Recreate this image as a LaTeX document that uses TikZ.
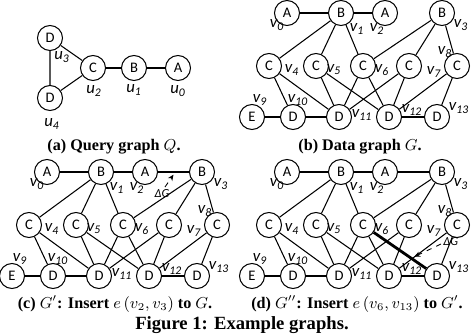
\documentclass[tikz,border=0pt]{standalone}
\usepackage{fontspec}
\newfontfamily\vfont{Carlito}
\newfontfamily\capfont{Liberation Serif}
\usetikzlibrary{arrows.meta}
\tikzset{
	vtx/.style={circle, draw, line width=0.6pt, fill=white, minimum size=0.5cm, inner sep=0pt, font=\vfont\fontsize{8.3}{9}\selectfont},
	lbl/.style={inner sep=0pt, font=\vfont\itshape\fontsize{9.5}{10}\selectfont},
	edge/.style={line width=0.6pt},
	newedge/.style={line width=1.6pt},
	delta/.style={dashed, line width=0.5pt, -{Stealth[length=3.5pt,width=3pt]}},
	subcap/.style={font=\capfont\fontsize{9.2}{11}\selectfont\bfseries},
	figcap/.style={font=\capfont\fontsize{10.6}{12}\selectfont\bfseries}
}
\newcommand{\vl}[1]{v\textsubscript{#1}}
\newcommand{\ul}[1]{u\textsubscript{#1}}
\begin{document}
\begin{tikzpicture}[x=0.02cm, y=-0.02cm]
	\useasboundingbox (0,0) rectangle (474,335);
	\newcommand{\datagraph}{
		%vertices
		\node [vtx] (v0) at (287,13) {A};
		\node [vtx] (v1) at (341,13) {B};
		\node [vtx] (v2) at (385,13) {A};
		\node [vtx] (v3) at (442,13) {B};
		\node [vtx] (v4) at (269,66) {C};
		\node [vtx] (v5) at (316,66) {C};
		\node [vtx] (v6) at (363,66) {C};
		\node [vtx] (v7) at (409,66) {C};
		\node [vtx] (v8) at (457,66) {C};
		\node [vtx] (v9) at (252,117) {E};
		\node [vtx] (v10) at (293,117) {D};
		\node [vtx] (v11) at (339,117) {D};
		\node [vtx] (v12) at (389,117) {D};
		\node [vtx] (v13) at (437,117) {D};
		%vertex ids
		\node [lbl] (l0) at (277,25) {\vl{0}};
		\node [lbl] (l1) at (357,29) {\vl{1}};
		\node [lbl] (l2) at (377,29) {\vl{2}};
		\node [lbl] (l3) at (461,25) {\vl{3}};
		\node [lbl] (l4) at (292,70) {\vl{4}};
		\node [lbl] (l5) at (334,70) {\vl{5}};
		\node [lbl] (l6) at (382,70) {\vl{6}};
		\node [lbl] (l7) at (434,72) {\vl{7}};
		\node [lbl] (l8) at (445,52) {\vl{8}};
		\node [lbl] (l9) at (260,100) {\vl{9}};
		\node [lbl] (l10) at (298,100) {\vl{10}};
		\node [lbl] (l11) at (362,115) {\vl{11}};
		\node [lbl] (l12) at (412,110) {\vl{12}};
		\node [lbl] (l13) at (459,108) {\vl{13}};
		%edges
		\draw [edge] (v0) -- (v1) -- (v2);
		\draw [edge] (v1) -- (v4);
		\draw [edge] (v1) -- (v5);
		\draw [edge] (v1) -- (v6);
		\draw [edge] (v3) -- (v6);
		\draw [edge] (v3) -- (v7);
		\draw [edge] (v3) -- (v8);
		\draw [edge] (v4) -- (v10);
		\draw [edge] (v4) -- (v11);
		\draw [edge] (v5) -- (v11);
		\draw [edge] (v5) -- (v12);
		\draw [edge] (v6) -- (v11);
		\draw [edge] (v6) -- (v12);
		\draw [edge] (v7) -- (v11);
		\draw [edge] (v7) -- (v12);
		\draw [edge] (v8) -- (v12);
		\draw [edge] (v8) -- (v13);
		\draw [edge] (v9) -- (v10) -- (v11);
		\draw [edge] (v12) -- (v13);
	}
	%(a) query graph
	\node [vtx] (u3) at (50,38) {D};
	\node [vtx] (u4) at (50,98) {D};
	\node [vtx] (u2) at (93,68) {C};
	\node [vtx] (u1) at (134,68) {B};
	\node [vtx] (u0) at (178,68) {A};
	\node [lbl] (k3) at (62,57) {\ul{3}};
	\node [lbl] (k2) at (94,91) {\ul{2}};
	\node [lbl] (k1) at (134,90) {\ul{1}};
	\node [lbl] (k0) at (178,91) {\ul{0}};
	\node [lbl] (k4) at (52,124) {\ul{4}};
	\draw [edge] (u3) -- (u4) -- (u2) -- (u3);
	\draw [edge] (u2) -- (u1) -- (u0);
	\node [subcap] (capa) at (114,147) {(a) Query graph $Q$.};
	%(b) data graph
	\begin{scope}[name prefix=b-]
		\datagraph
	\end{scope}
	\node [subcap] (capb) at (360,147) {(b) Data graph $G$.};
	%(c) first insertion
	\begin{scope}[shift={(-240,159)}, name prefix=c-]
		\datagraph
		\draw [newedge] (v2) -- (v3) coordinate [pos=0.5] (dh);
		\coordinate (dt) at (405,28);
		\draw [delta] (dt) -- ([yshift=-1.5pt]dh);
		\node [lbl, font=\vfont\itshape\fontsize{7}{8}\selectfont] (dg) at (402,35) {ΔG};
	\end{scope}
	\node [subcap] (capc) at (115,304) {(c) $G'$: Insert $e\,(v_2, v_3)$ to $G$.};
	%(d) second insertion
	\begin{scope}[shift={(0,159)}, name prefix=d-]
		\datagraph
		\draw [edge] (v2) -- (v3);
		\draw [newedge] (v6) -- (v13) coordinate [pos=0.77] (dh);
		\coordinate (dt) at (441,85);
		\draw [delta] (dt) -- ([yshift=2pt]dh);
		\node [lbl, font=\vfont\itshape\fontsize{7}{8}\selectfont, anchor=west] (dg) at (443,83) {ΔG};
	\end{scope}
	\node [subcap] (capd) at (357,304) {(d) $G''$: Insert $e\,(v_6, v_{13})$ to $G'$.};
	%figure caption
	\node [figcap] (fig) at (242,325) {Figure 1: Example graphs.};
\end{tikzpicture}
\end{document}
